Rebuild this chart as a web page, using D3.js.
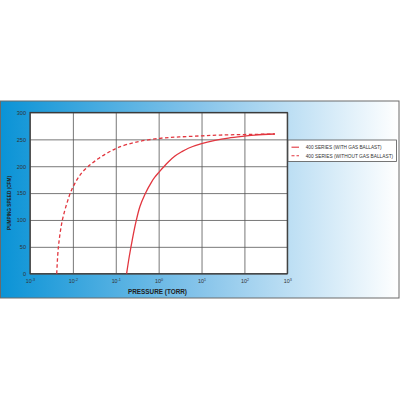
<!DOCTYPE html>
<html>
<head>
<meta charset="utf-8">
<script src="https://cdn.jsdelivr.net/npm/d3@7"></script>
<style>
  body { margin: 0; background: #fff; }
  svg { display: block; font-family: "Liberation Sans", Arial, sans-serif; }
</style>
</head>
<body>
<svg width="400" height="400"></svg>
<script>
// tick labels
var xTicks = [1e-3, 1e-2, 1e-1, 1e0, 1e1, 1e2, 1e3];
var xTickExps = ["-3", "-2", "-1", "0", "1", "2", "3"];
var yTicks = [0, 50, 100, 150, 200, 250, 300];

// 400 series with gas ballast (solid)
var withPressure = [0.179, 0.2065, 0.2427, 0.291, 0.366, 0.48, 0.687, 0.822, 1.023, 1.285, 1.68, 2.4, 3.44, 4.92, 10, 20.6, 42.1, 100, 177, 513];
var withSpeed    = [0, 32, 63, 94, 125, 148, 171, 180, 189, 198, 208, 219, 227, 233.5, 242, 248, 252.4, 256, 258, 260];

// 400 series without gas ballast (dashed)
var withoutPressure = [0.0042, 0.0046, 0.0057, 0.0081, 0.0095, 0.0112, 0.0134, 0.0166, 0.0217, 0.029, 0.0406, 0.056, 0.08, 0.115, 0.3, 1.07, 3, 10, 27, 100, 513];
var withoutSpeed    = [0, 50, 100, 143, 157, 168.5, 179, 189, 198, 206.5, 215, 222, 229, 235, 245, 252, 254.5, 256.5, 258, 259, 260];

var seriesNames = ["400 SERIES (WITH GAS BALLAST)", "400 SERIES (WITHOUT GAS BALLAST)"];

function draw() {
  var red = "#e2363f";
  var svg = d3.select("svg");

  // gradient panel behind the chart
  var defs = svg.append("defs");
  var grad = defs.append("linearGradient").attr("id", "bg")
    .attr("x1", "0%").attr("x2", "100%").attr("y1", "0%").attr("y2", "0%");
  grad.append("stop").attr("offset", "0%").attr("stop-color", "#0a93d6");
  grad.append("stop").attr("offset", "50%").attr("stop-color", "#86c4ea");
  grad.append("stop").attr("offset", "100%").attr("stop-color", "#ffffff");

  svg.append("rect")
    .attr("x", 0.5).attr("y", 101).attr("width", 398.5).attr("height", 197)
    .attr("fill", "url(#bg)").attr("stroke", "#6a6a6a").attr("stroke-width", 1);

  var pLeft = 30, pRight = 287.3, pTop = 112.5, pBottom = 273.7;

  var x = d3.scaleLog().domain([1e-3, 1e3]).range([pLeft, pRight]);
  var y = d3.scaleLinear().domain([0, 300]).range([pBottom, pTop]);

  svg.append("rect")
    .attr("x", pLeft).attr("y", pTop).attr("width", pRight - pLeft).attr("height", pBottom - pTop)
    .attr("fill", "#fff");

  // grid + ticks
  var gx = svg.append("g").attr("transform", "translate(0," + pBottom + ")")
    .call(d3.axisBottom(x).tickValues(xTicks).tickSize(-(pBottom - pTop)).tickPadding(5)
      .tickFormat(function() { return "10"; }));
  gx.select(".domain").remove();
  gx.selectAll("line").attr("stroke", "#555").attr("stroke-width", 0.8);
  gx.selectAll("text")
    .attr("fill", "#333").attr("font-size", "5.4px")
    .each(function(d, i) {
      d3.select(this).append("tspan")
        .attr("dy", "-2").attr("font-size", "3.7px")
        .text(xTickExps[i]);
    });

  var gy = svg.append("g").attr("transform", "translate(" + pLeft + ",0)")
    .call(d3.axisLeft(y).tickValues(yTicks).tickSize(-(pRight - pLeft)).tickPadding(4));
  gy.select(".domain").remove();
  gy.selectAll("line").attr("stroke", "#555").attr("stroke-width", 0.8);
  gy.selectAll("text").attr("fill", "#333").attr("font-size", "5.6px");

  svg.append("rect")
    .attr("x", pLeft).attr("y", pTop).attr("width", pRight - pLeft).attr("height", pBottom - pTop)
    .attr("fill", "none").attr("stroke", "#3a3a3a").attr("stroke-width", 1.2);

  // curves
  var line = d3.line()
    .x(function(d) { return x(d[0]); })
    .y(function(d) { return y(d[1]); })
    .curve(d3.curveCatmullRom.alpha(0.5));

  svg.append("path")
    .datum(d3.zip(withPressure, withSpeed))
    .attr("d", line)
    .attr("fill", "none").attr("stroke", red).attr("stroke-width", 1.3);

  svg.append("path")
    .datum(d3.zip(withoutPressure, withoutSpeed))
    .attr("d", line)
    .attr("fill", "none").attr("stroke", red).attr("stroke-width", 1.3)
    .attr("stroke-dasharray", "3.5,2.5");

  // axis titles
  svg.append("text")
    .attr("x", 157.5).attr("y", 293.5).attr("text-anchor", "middle")
    .attr("font-size", "6.4px").attr("font-weight", "bold").attr("fill", "#222")
    .attr("textLength", 59).attr("lengthAdjust", "spacingAndGlyphs")
    .text("PRESSURE (TORR)");

  svg.append("text")
    .attr("transform", "translate(11,203) rotate(-90)").attr("text-anchor", "middle")
    .attr("font-size", "6px").attr("font-weight", "bold").attr("fill", "#222")
    .attr("textLength", 54).attr("lengthAdjust", "spacingAndGlyphs")
    .text("PUMPING SPEED (CFM)");

  // legend
  var legend = svg.append("g");
  legend.append("rect")
    .attr("x", 288).attr("y", 140).attr("width", 108.5).attr("height", 21.5)
    .attr("fill", "#fff").attr("stroke", "#555").attr("stroke-width", 0.8);

  var legendDash = [null, "3,2"];
  var legendLen = [76, 87.5];
  seriesNames.forEach(function(name, i) {
    var ly = 147.2 + i * 8.5;
    legend.append("line")
      .attr("x1", 291.5).attr("x2", 299).attr("y1", ly).attr("y2", ly)
      .attr("stroke", red).attr("stroke-width", 1.1)
      .attr("stroke-dasharray", legendDash[i]);
    legend.append("text")
      .attr("x", 305.7).attr("y", ly + 1.8)
      .attr("font-size", "5px").attr("fill", "#333")
      .attr("textLength", legendLen[i]).attr("lengthAdjust", "spacingAndGlyphs")
      .text(name);
  });
}

draw();
</script>
</body>
</html>
